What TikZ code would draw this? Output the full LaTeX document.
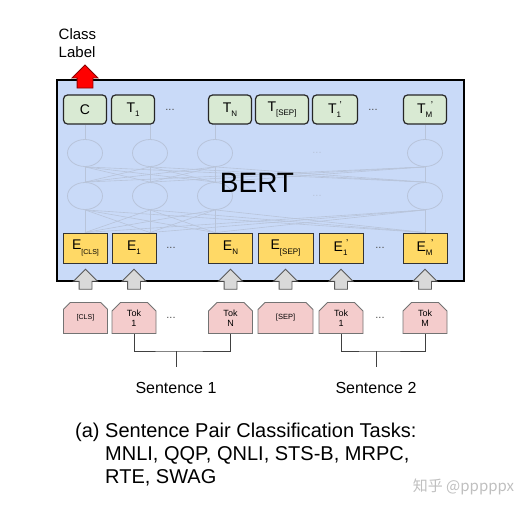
\documentclass[tikz,border=0pt]{standalone}
\usepackage{fontspec}
\setmainfont{Liberation Sans}
\newfontfamily\cjkfont{Noto Sans CJK SC}
\usetikzlibrary{positioning,shapes.misc,shapes.arrows,shapes.geometric}

\definecolor{bertblue}{HTML}{C9DAF8}
\definecolor{outgreen}{HTML}{D9EAD3}
\definecolor{embyellow}{HTML}{FFD966}
\definecolor{tokpink}{HTML}{F4CCCC}
\definecolor{netgray}{HTML}{B8C4DA}

\newcommand{\tsub}[1]{\raisebox{-0.3em}{\fontsize{8}{8}\selectfont #1}}
\newcommand{\tsubpr}[1]{\tsub{#1}\kern-1.5pt\raisebox{0.35em}{\fontsize{10}{10}\selectfont '}}

\tikzset{
  bertbox/.style={draw=black, line width=2pt, fill=bertblue, minimum width=407pt, minimum height=201pt, inner sep=0pt},
  hidden/.style={ellipse, draw=netgray, line width=0.8pt, minimum width=35pt, minimum height=27pt, inner sep=0pt},
  netline/.style={draw=netgray, line width=0.6pt},
  outbox/.style={draw=black!85, line width=1.2pt, fill=outgreen, rounded corners=4pt, minimum width=43pt, minimum height=29pt, inner sep=0pt, font=\fontsize{14}{14}\selectfont},
  embbox/.style={draw=black!80, line width=0.9pt, fill=embyellow, minimum width=44pt, minimum height=30pt, inner sep=0pt, font=\fontsize{14}{14}\selectfont},
  tokbox/.style={chamfered rectangle, chamfered rectangle corners={north west,north east}, chamfered rectangle xsep=5pt, draw=black!55, line width=0.8pt, fill=tokpink, minimum width=44pt, minimum height=31pt, inner sep=0pt, align=center, font=\fontsize{9}{10}\selectfont},
  uparrow/.style={single arrow, shape border rotate=90, draw=black!65, line width=0.9pt, fill=black!15, minimum height=20pt, single arrow head extend=5.5pt, inner xsep=6pt, inner ysep=2pt},
  redarrow/.style={single arrow, shape border rotate=90, draw=red!55!black, line width=0.9pt, fill=red, minimum height=23pt, single arrow head extend=5pt, inner xsep=7.5pt, inner ysep=2pt},
  dots/.style={font=\fontsize{11}{11}\selectfont, text=black!70},
  bracket/.style={draw=black!75, line width=0.9pt},
}

\begin{document}
\begin{tikzpicture}[x=1pt, y=1pt, node distance=48pt, on grid]
    \useasboundingbox (0,0) rectangle (530,-517);

    % the BERT block with its two hidden layers
    \node[bertbox] (bert) at (260.5,-180.5) {};
    \node[hidden] (lo_1) at (85,-196) {};
    \node[hidden] (lo_2) [right=65pt of lo_1] {};
    \node[hidden] (lo_3) [right=65pt of lo_2] {};
    \node[hidden] (lo_4) [right=210pt of lo_3] {};
    \foreach \i in {1,...,4}
        \node[hidden] (hi_\i) [above=43pt of lo_\i] {};
    \node[dots, text=netgray] (hdots_1) [right=102pt of hi_3] {...};
    \node[dots, text=netgray] (hdots_2) [right=102pt of lo_3] {...};

    % outputs
    \node[outbox] (t_0) at (85,-109.5) {C};
    \node[outbox] (t_1) [right=48pt of t_0] {T\tsub{1}};
    \node[outbox] (t_N) [right=97pt of t_1] {T\tsub{N}};
    \node[outbox, minimum width=53pt] (t_sep) [right=52pt of t_N] {T\tsub{[SEP]}};
    \node[outbox, minimum width=45pt] (t_1p) [right=53pt of t_sep] {T\tsubpr{1}};
    \node[outbox] (t_Mp) [right=90pt of t_1p] {T\tsubpr{M}};
    \node[dots] (t_dots1) [right=37pt of t_1] {...};
    \node[dots] (t_dots2) [right=38pt of t_1p] {...};

    % embeddings
    \node[embbox] (e_0) at (85.5,-248) {E\tsub{\fontsize{7}{7}\selectfont[CLS]}};
    \node[embbox] (e_1) [right=48.5pt of e_0] {E\tsub{1}};
    \node[embbox] (e_N) [right=96.5pt of e_1] {E\tsub{N}};
    \node[embbox, minimum width=55pt] (e_sep) [right=55pt of e_N] {E\tsub{[SEP]}};
    \node[embbox] (e_1p) [right=55.5pt of e_sep] {E\tsubpr{1}};
    \node[embbox] (e_Mp) [right=84pt of e_1p] {E\tsubpr{M}};
    \node[dots] (e_dots1) [right=37pt of e_1] {...};
    \node[dots] (e_dots2) [right=39pt of e_1p] {...};

    % network connections
    \foreach \i in {1,...,4} {
        \draw[netline] (hi_\i.north) -- (hi_\i.north |- t_0.south);
        \foreach \j in {1,...,4} {
            \draw[netline] (lo_\i.north) -- (hi_\j.south);
            \draw[netline] (lo_\i.south |- e_0.north) -- (lo_\j.south);
        }
    }
    \node[font=\fontsize{28}{28}\selectfont] (bertlabel) at (257,-183) {BERT};

    % input tokens
    \node[tokbox] (tok_0) [below=70pt of e_0] {\fontsize{7}{7}\selectfont[CLS]};
    \node[tokbox] (tok_1) [below=70pt of e_1] {Tok\\1};
    \node[tokbox] (tok_N) [below=70pt of e_N] {Tok\\N};
    \node[tokbox, minimum width=55pt] (tok_sep) [below=70pt of e_sep] {\fontsize{7.5}{7.5}\selectfont[SEP]};
    \node[tokbox] (tok_1p) [below=70pt of e_1p] {Tok\\1};
    \node[tokbox] (tok_Mp) [below=70pt of e_Mp] {Tok\\M};
    \node[dots] (tok_dots1) [below=70pt of e_dots1] {...};
    \node[dots] (tok_dots2) [below=70pt of e_dots2] {...};
    \foreach \n in {0,1,N,sep,1p,Mp}
        \node[uparrow] (a_\n) [below=34.5pt of e_\n] {};

    % class label
    \node[redarrow] (cls_arrow) [above=29pt of t_0] {};
    \node[align=left, font=\fontsize{15}{18}\selectfont] (cls_label) at (77.5,-43.5) {Class\\Label};

    % sentences
    \coordinate (s1_bar) at (176,-351);
    \coordinate[below=16pt of s1_bar] (s1_tick);
    \draw[bracket] (tok_1.south) |- (s1_bar) -| (tok_N.south);
    \draw[bracket] (s1_bar) -- (s1_tick);
    \node[font=\fontsize{16}{16}\selectfont] (s1) [below=12pt of s1_tick] {Sentence 1};
    \coordinate (s2_bar) at (376,-351);
    \coordinate[below=16pt of s2_bar] (s2_tick);
    \draw[bracket] (tok_1p.south) |- (s2_bar) -| (tok_Mp.south);
    \draw[bracket] (s2_bar) -- (s2_tick);
    \node[font=\fontsize{16}{16}\selectfont] (s2) [below=12pt of s2_tick] {Sentence 2};

    % caption
    \node[align=left, anchor=north west, inner sep=0pt, font=\fontsize{20}{23}\selectfont] (caption) at (75,-422.5)
        {(a) Sentence Pair Classification Tasks:\\\hspace*{30pt}MNLI, QQP, QNLI, STS-B, MRPC,\\\hspace*{30pt}RTE, SWAG};
    \node[font=\cjkfont\fontsize{15}{15}\selectfont, text=black!25] (mark) at (463.5,-487) {知乎 @pppppx};
\end{tikzpicture}
\end{document}
